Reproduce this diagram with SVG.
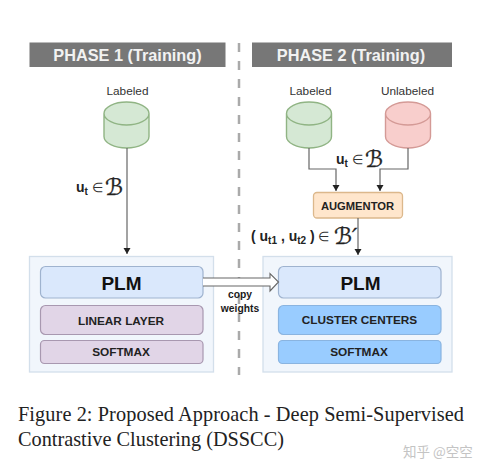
<svg xmlns="http://www.w3.org/2000/svg" width="492" height="471" viewBox="0 0 492 471">
<style>
text{font-family:"Liberation Sans",Arial,sans-serif;fill:#1a1a1a}
.ph{fill:#777}
.pt{font-size:16.3px;font-weight:700;fill:#f2f2f2;text-anchor:middle}
.lb{font-size:11.8px;fill:#333;text-anchor:middle}
.outer{fill:#f1f6fc;stroke:#d3dfeb;stroke-width:1.3}
.plm{fill:#dae8fc;stroke:#9fb3cf;stroke-width:1.2}
.pu{fill:#e1d5e7;stroke:#a898b0;stroke-width:1.2}
.bl{fill:#99ccff;stroke:#8ab4e0;stroke-width:1.2}
.t1{font-size:19px;font-weight:700;text-anchor:middle;fill:#111}
.t2{font-size:11.8px;font-weight:700;text-anchor:middle;fill:#222}
.gc{fill:#d5e8d4;stroke:#90b484;stroke-width:1.4}
.rc{fill:#f8cecc;stroke:#d49a96;stroke-width:1.4}
.ln{fill:none;stroke:#666;stroke-width:1.2}
.m{font-size:14px;font-weight:700;fill:#222}
.s{font-size:10px;font-weight:700;fill:#222}
.e{font-size:13px;fill:#333}
.b{font-family:"DejaVu Serif","DejaVu Sans","Noto Sans",serif;font-size:23px;font-style:italic;fill:#222;stroke:#222;stroke-width:.35}
.cap{font-family:"Liberation Serif",serif;font-size:20.3px;fill:#222}
</style>
<defs>
<marker id="a" markerWidth="8" markerHeight="8" refX="6" refY="3.5" orient="auto" markerUnits="userSpaceOnUse"><path d="M0 0L6 3.500L0 7z" fill="#222"/></marker>
<path id="cyl" d="M-22.500-34.500V-11.500C-22.500-5 -12-0 0 0S22.500-5 22.500-11.500V-34.500C22.500-41 12-46 0-46S-22.500-41 -22.500-34.500C-22.500-28 -12-23 0-23S22.500-28 22.500-34.500"/>
</defs>
<rect width="492" height="471" fill="#fff"/>
<g id="phase1"><rect class="ph" x="29.500" y="42.500" width="196" height="24.500"/><text class="pt" x="127.500" y="60.500">PHASE 1 (Training)</text></g>
<g id="phase2"><rect class="ph" x="252" y="42.500" width="200" height="24.500"/><text class="pt" x="351" y="60.500">PHASE 2 (Training)</text></g>
<path id="divider" d="M239 43V375" fill="none" stroke="#aaa" stroke-width="2.500" stroke-dasharray="9 9"/>
<g id="labeled1"><use href="#cyl" class="gc" x="126.500" y="148"/><text class="lb" x="127.500" y="95">Labeled</text></g>
<g id="labeled2"><use href="#cyl" class="gc" x="309" y="148"/><text class="lb" x="310.500" y="95">Labeled</text></g>
<g id="unlabeled"><use href="#cyl" class="rc" x="408" y="148"/><text class="lb" x="407.500" y="95">Unlabeled</text></g>
<g id="augmentor"><rect x="313.500" y="192.500" width="89" height="25.500" rx="3.500" fill="#ffe6cc" stroke="#dcb88c" stroke-width="1.300"/><text class="t2" x="357.500" y="209.500" style="font-size:11.200px">AUGMENTOR</text></g>
<g id="left-stack"><rect class="outer" x="29.500" y="256.500" width="184" height="115.500"/>
<g id="plm1"><rect class="plm" x="40.500" y="266.500" width="162.500" height="31.500" rx="5"/><text class="t1" x="121.500" y="290">PLM</text></g>
<g id="linear"><rect class="pu" x="40.500" y="305.500" width="162.500" height="29" rx="5"/><text class="t2" x="121" y="324.500">LINEAR LAYER</text></g>
<g id="softmax1"><rect class="pu" x="40.500" y="340.500" width="162.500" height="23" rx="4"/><text class="t2" x="121" y="356">SOFTMAX</text></g></g>
<g id="right-stack"><rect class="outer" x="263" y="256.500" width="189" height="115.500"/>
<g id="plm2"><rect class="plm" x="278.500" y="266.500" width="162.500" height="31.500" rx="5"/><text class="t1" x="360.500" y="290">PLM</text></g>
<g id="clusters"><rect class="bl" x="278.500" y="305.500" width="162.500" height="29" rx="5"/><text class="t2" x="359.500" y="324">CLUSTER CENTERS</text></g>
<g id="softmax2"><rect class="bl" x="278.500" y="340.500" width="162.500" height="23" rx="4"/><text class="t2" x="359" y="356">SOFTMAX</text></g></g>
<g id="connectors">
<path class="ln" d="M127 148V254" marker-end="url(#a)"/>
<path class="ln" d="M309 148V169H336V191" marker-end="url(#a)"/>
<path class="ln" d="M408 148V169H380V191" marker-end="url(#a)"/>
<path class="ln" d="M358 218V255" marker-end="url(#a)"/>
<path d="M203 278H270V273.500L278.500 282L270 291V286H203" fill="#fff" stroke="#666" stroke-width="1.100"/>
</g>
<g id="labels">
<text x="76" y="192"><tspan class="m">u</tspan><tspan class="s" dy="3">t</tspan><tspan class="e" dy="-3" dx="4">∈</tspan></text><text class="b" x="105" y="195">ℬ</text>
<text x="336" y="164"><tspan class="m">u</tspan><tspan class="s" dy="3">t</tspan><tspan class="e" dy="-3" dx="4">∈</tspan></text><text class="b" x="365" y="167">ℬ</text>
<text x="251" y="241"><tspan class="m">( u</tspan><tspan class="s" dy="3">t1</tspan><tspan class="m" dy="-3"> , u</tspan><tspan class="s" dy="3">t2</tspan><tspan class="m" dy="-3"> )</tspan><tspan class="e" dx="3">∈</tspan></text><text class="b" x="334" y="244">ℬ′</text>
<text x="240" y="298" text-anchor="middle" style="font-size:10.300px;font-weight:700">copy</text>
<text x="240" y="312" text-anchor="middle" style="font-size:10.300px;font-weight:700">weights</text>
</g>
<text class="cap" x="18" y="421" textLength="446" lengthAdjust="spacing">Figure 2: Proposed Approach - Deep Semi-Supervised</text>
<text class="cap" x="18" y="446">Contrastive Clustering (DSSCC)</text>
<text x="403" y="457" style='font-family:"Noto Sans CJK SC","Liberation Sans",sans-serif;font-size:13.500px;fill:#c4c4c4'>知乎 @空空</text>
</svg>
